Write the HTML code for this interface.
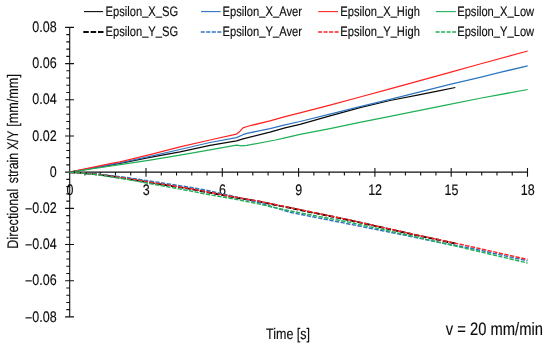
<!DOCTYPE html>
<html><head><meta charset="utf-8"><title>Directional strain</title>
<style>
html,body{margin:0;padding:0;background:#fff;}
svg{display:block;}
text{font-family:"Liberation Sans",Arial,sans-serif;fill:#0d0d0d;stroke:#0d0d0d;stroke-width:0.15px;text-rendering:geometricPrecision;}
</style></head>
<body>
<svg width="550" height="348" viewBox="0 0 550 348">
<rect width="550" height="348" fill="#ffffff"/>
<path d="M69.70,27.40V316.90M69.70,172.15H527.49M65.10,316.90H74.00M66.30,309.66H69.70M66.30,302.43H69.70M66.30,295.19H69.70M66.30,287.95H69.70M65.10,280.71H74.00M66.30,273.48H69.70M66.30,266.24H69.70M66.30,259.00H69.70M66.30,251.76H69.70M65.10,244.53H74.00M66.30,237.29H69.70M66.30,230.05H69.70M66.30,222.81H69.70M66.30,215.58H69.70M65.10,208.34H74.00M66.30,201.10H69.70M66.30,193.86H69.70M66.30,186.63H69.70M66.30,179.39H69.70M65.10,172.15H74.00M66.30,164.91H69.70M66.30,157.67H69.70M66.30,150.44H69.70M66.30,143.20H69.70M65.10,135.96H74.00M66.30,128.72H69.70M66.30,121.49H69.70M66.30,114.25H69.70M66.30,107.01H69.70M65.10,99.77H74.00M66.30,92.54H69.70M66.30,85.30H69.70M66.30,78.06H69.70M66.30,70.82H69.70M65.10,63.59H74.00M66.30,56.35H69.70M66.30,49.11H69.70M66.30,41.87H69.70M66.30,34.64H69.70M65.10,27.40H74.00M69.70,167.95V176.75M84.96,172.15V175.45M100.22,172.15V175.45M115.48,172.15V175.45M130.74,172.15V175.45M146.00,167.95V176.75M161.26,172.15V175.45M176.52,172.15V175.45M191.78,172.15V175.45M207.04,172.15V175.45M222.30,167.95V176.75M237.56,172.15V175.45M252.82,172.15V175.45M268.08,172.15V175.45M283.34,172.15V175.45M298.60,167.95V176.75M313.86,172.15V175.45M329.12,172.15V175.45M344.38,172.15V175.45M359.64,172.15V175.45M374.90,167.95V176.75M390.16,172.15V175.45M405.42,172.15V175.45M420.68,172.15V175.45M435.94,172.15V175.45M451.19,167.95V176.75M466.45,172.15V175.45M481.71,172.15V175.45M496.97,172.15V175.45M512.23,172.15V175.45M527.49,167.95V176.75" fill="none" stroke="#111" stroke-width="1.1"/>
<text x="56.70" y="32.00" font-size="15.3" text-anchor="end" textLength="24.33" lengthAdjust="spacingAndGlyphs" xml:space="preserve">0.08</text>
<text x="56.70" y="68.00" font-size="15.3" text-anchor="end" textLength="24.33" lengthAdjust="spacingAndGlyphs" xml:space="preserve">0.06</text>
<text x="56.70" y="104.00" font-size="15.3" text-anchor="end" textLength="24.33" lengthAdjust="spacingAndGlyphs" xml:space="preserve">0.04</text>
<text x="56.70" y="141.00" font-size="15.3" text-anchor="end" textLength="24.33" lengthAdjust="spacingAndGlyphs" xml:space="preserve">0.02</text>
<text x="56.70" y="177.00" font-size="15.3" text-anchor="end" textLength="6.95" lengthAdjust="spacingAndGlyphs" xml:space="preserve">0</text>
<text x="56.70" y="213.00" font-size="15.3" text-anchor="end" dy="1 -1 0 0 0" textLength="31.63" lengthAdjust="spacingAndGlyphs" xml:space="preserve">−0.02</text>
<text x="56.70" y="249.00" font-size="15.3" text-anchor="end" dy="1 -1 0 0 0" textLength="31.63" lengthAdjust="spacingAndGlyphs" xml:space="preserve">−0.04</text>
<text x="56.70" y="285.00" font-size="15.3" text-anchor="end" dy="1 -1 0 0 0" textLength="31.63" lengthAdjust="spacingAndGlyphs" xml:space="preserve">−0.06</text>
<text x="56.70" y="322.00" font-size="15.3" text-anchor="end" dy="1 -1 0 0 0" textLength="31.63" lengthAdjust="spacingAndGlyphs" xml:space="preserve">−0.08</text>
<text x="69.90" y="195.00" font-size="15.3" text-anchor="middle" textLength="6.95" lengthAdjust="spacingAndGlyphs" xml:space="preserve">0</text>
<text x="146.20" y="195.00" font-size="15.3" text-anchor="middle" textLength="6.95" lengthAdjust="spacingAndGlyphs" xml:space="preserve">3</text>
<text x="222.50" y="195.00" font-size="15.3" text-anchor="middle" textLength="6.95" lengthAdjust="spacingAndGlyphs" xml:space="preserve">6</text>
<text x="298.80" y="195.00" font-size="15.3" text-anchor="middle" textLength="6.95" lengthAdjust="spacingAndGlyphs" xml:space="preserve">9</text>
<text x="375.10" y="195.00" font-size="15.3" text-anchor="middle" textLength="13.90" lengthAdjust="spacingAndGlyphs" xml:space="preserve">12</text>
<text x="451.39" y="195.00" font-size="15.3" text-anchor="middle" textLength="13.90" lengthAdjust="spacingAndGlyphs" xml:space="preserve">15</text>
<text x="527.69" y="195.00" font-size="15.3" text-anchor="middle" textLength="13.90" lengthAdjust="spacingAndGlyphs" xml:space="preserve">18</text>
<text transform="translate(17.50,0) rotate(-90)" font-size="15.3"><tspan x="-248.71" textLength="59.93" lengthAdjust="spacingAndGlyphs">Directional</tspan> <tspan x="-183.14" textLength="30.32" lengthAdjust="spacingAndGlyphs">strain</tspan> <tspan x="-149.76" textLength="18.82" lengthAdjust="spacingAndGlyphs">X/Y</tspan> <tspan x="-126.68" textLength="52.57" lengthAdjust="spacingAndGlyphs">[mm/mm]</tspan></text>
<text x="266.05" y="339.00" font-size="15.3" textLength="43.94" lengthAdjust="spacingAndGlyphs" xml:space="preserve">Time [s]</text>
<text x="445.86" y="335.00" font-size="18" textLength="97.06" lengthAdjust="spacingAndGlyphs" xml:space="preserve">v = 20 mm/min</text>
<path d="M69.7,172.2L120.0,163.3L150.0,157.4L180.0,151.8L210.0,145.3L236.5,140.9L243.0,138.8L270.0,132.1L285.0,127.9L300.0,124.4L330.0,115.9L360.0,107.7L390.0,100.5L420.0,94.6L440.0,90.6L455.3,87.5" fill="none" stroke="#0a0a0a" stroke-width="1.25" stroke-linejoin="round"/>
<path d="M69.7,172.2L120.0,162.9L150.0,156.3L180.0,149.5L210.0,142.5L236.5,137.6L243.0,134.7L246.9,133.4L270.0,128.6L285.0,124.8L300.0,121.5L330.0,114.2L360.0,106.6L390.0,99.3L420.0,91.8L450.0,84.4L480.0,77.3L500.0,72.4L527.7,65.8" fill="none" stroke="#2e75c0" stroke-width="1.25" stroke-linejoin="round"/>
<path d="M69.7,172.2L111.5,163.4L120.0,161.8L150.0,154.7L180.0,146.9L210.0,140.0L236.5,134.1L239.8,131.4L243.0,127.9L246.9,126.5L270.0,120.8L285.0,116.6L300.0,112.9L330.0,105.2L360.0,97.0L390.0,88.8L420.0,80.6L450.0,72.4L480.0,64.0L527.7,51.0" fill="none" stroke="#ff2222" stroke-width="1.25" stroke-linejoin="round"/>
<path d="M69.7,172.2L111.5,166.0L120.0,164.7L150.0,160.1L180.0,155.2L210.0,149.9L236.5,145.1L241.4,145.9L246.9,145.4L275.5,140.0L285.0,137.9L300.0,134.4L330.0,128.6L357.3,122.8L390.0,116.3L444.6,105.4L481.5,98.0L527.7,89.5" fill="none" stroke="#1fb055" stroke-width="1.25" stroke-linejoin="round"/>
<path d="M69.7,172.2L82.0,172.9L98.7,174.6L116.0,176.9L123.8,178.2L145.7,181.9L190.0,188.9L210.0,192.7L233.6,197.2L257.3,201.2L290.0,207.9L350.0,220.3L410.0,233.8L455.3,243.5" fill="none" stroke="#0a0a0a" stroke-width="1.9" stroke-linejoin="round" stroke-dasharray="5.5 1.8"/>
<path d="M69.7,172.2L82.0,172.8L98.7,174.2L116.0,176.2L123.8,177.1L145.7,180.4L190.0,187.3L210.0,191.0L233.6,196.4L245.0,199.2L257.3,202.2L290.0,212.3L350.0,224.2L410.0,236.3L440.0,242.6L470.0,248.0L527.5,260.9" fill="none" stroke="#2e75c0" stroke-width="1.45" stroke-linejoin="round" stroke-dasharray="4.3 1.45"/>
<path d="M69.7,172.2L82.0,172.9L98.7,174.6L116.0,176.9L123.8,177.9L145.7,181.6L190.0,188.6L210.0,192.4L233.6,196.9L257.3,200.9L290.0,207.6L350.0,220.0L410.0,233.5L470.0,246.4L527.5,259.4" fill="none" stroke="#ff2222" stroke-width="1.45" stroke-linejoin="round" stroke-dasharray="4.3 1.45"/>
<path d="M69.7,172.2L82.0,173.0L98.7,175.0L116.0,177.7L123.8,178.8L145.7,182.8L190.0,190.9L210.0,194.9L233.6,198.9L257.3,203.6L290.0,210.9L350.0,222.4L410.0,235.6L470.0,249.4L527.5,263.0" fill="none" stroke="#1fb055" stroke-width="1.45" stroke-linejoin="round" stroke-dasharray="4.3 1.45"/>
<path d="M84.0,11.6H103.1" stroke="#0a0a0a" stroke-width="1.1" fill="none"/>
<path d="M83.3,32.0H103.8" stroke="#0a0a0a" stroke-width="1.9" fill="none" stroke-dasharray="5.5 1.85"/>
<text x="105.51" y="16.00" font-size="13.7" dy="0 0 0 0 0 0 0 -1 1 -1 1 0" textLength="72.62" lengthAdjust="spacingAndGlyphs" xml:space="preserve">Epsilon_X_SG</text>
<text x="105.51" y="36.00" font-size="13.7" dy="0 0 0 0 0 0 0 -1 1 -1 1 0" textLength="72.62" lengthAdjust="spacingAndGlyphs" xml:space="preserve">Epsilon_Y_SG</text>
<path d="M201.0,11.6H220.7" stroke="#2e75c0" stroke-width="1.1" fill="none"/>
<path d="M200.8,32.0H221.3" stroke="#2e75c0" stroke-width="1.45" fill="none" stroke-dasharray="4.0 1.5"/>
<text x="222.50" y="16.00" font-size="13.7" dy="0 0 0 0 0 0 0 -1 1 -1 1 0 0 0" textLength="79.46" lengthAdjust="spacingAndGlyphs" xml:space="preserve">Epsilon_X_Aver</text>
<text x="222.50" y="36.00" font-size="13.7" dy="0 0 0 0 0 0 0 -1 1 -1 1 0 0 0" textLength="79.46" lengthAdjust="spacingAndGlyphs" xml:space="preserve">Epsilon_Y_Aver</text>
<path d="M318.3,11.6H338.0" stroke="#ff2222" stroke-width="1.1" fill="none"/>
<path d="M318.1,32.0H338.6" stroke="#ff2222" stroke-width="1.45" fill="none" stroke-dasharray="4.0 1.5"/>
<text x="340.20" y="16.00" font-size="13.7" dy="0 0 0 0 0 0 0 -1 1 -1 1 0 0 0" textLength="79.71" lengthAdjust="spacingAndGlyphs" xml:space="preserve">Epsilon_X_High</text>
<text x="340.20" y="36.00" font-size="13.7" dy="0 0 0 0 0 0 0 -1 1 -1 1 0 0 0" textLength="79.71" lengthAdjust="spacingAndGlyphs" xml:space="preserve">Epsilon_Y_High</text>
<path d="M435.8,11.6H455.90000000000003" stroke="#1fb055" stroke-width="1.1" fill="none"/>
<path d="M435.6,32.0H456.1" stroke="#1fb055" stroke-width="1.45" fill="none" stroke-dasharray="4.0 1.5"/>
<text x="457.21" y="16.00" font-size="13.7" dy="0 0 0 0 0 0 0 -1 1 -1 1 0 0" textLength="76.95" lengthAdjust="spacingAndGlyphs" xml:space="preserve">Epsilon_X_Low</text>
<text x="457.21" y="36.00" font-size="13.7" dy="0 0 0 0 0 0 0 -1 1 -1 1 0 0" textLength="76.95" lengthAdjust="spacingAndGlyphs" xml:space="preserve">Epsilon_Y_Low</text>
</svg>
</body></html>
